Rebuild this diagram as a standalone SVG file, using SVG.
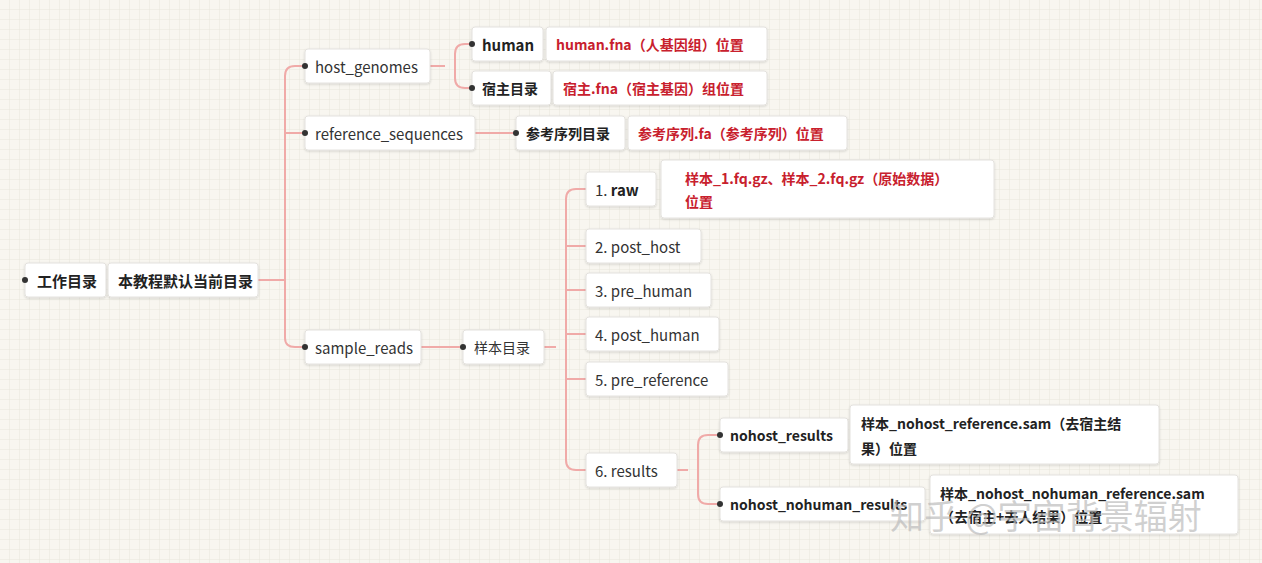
<svg xmlns="http://www.w3.org/2000/svg" width="1262" height="563" viewBox="0 0 1262 563">
<defs>
<pattern id="g" width="10" height="10" patternUnits="userSpaceOnUse"><path d="M10 0V10H0" fill="none" stroke="#e9e6dd" stroke-width="1"/></pattern>
<filter id="sh" x="-10%" y="-20%" width="120%" height="150%"><feDropShadow dx="0" dy="1" stdDeviation="1" flood-color="#000" flood-opacity="0.15"/></filter>
</defs>
<style>
.b{fill:#fff;stroke:#e4e2de;stroke-width:1;filter:url(#sh)}
text{font-family:"Noto Sans CJK SC","Noto Sans",sans-serif;font-size:15px;fill:#333;dominant-baseline:central}
.k{font-weight:bold;fill:#222}
.r{font-weight:bold;fill:#c8202d;font-size:14px}
.d{fill:#333}
.c{fill:none;stroke:#f0aaa8;stroke-width:2}
</style>
<rect width="1262" height="563" fill="#f8f6f0"/>
<rect width="1262" height="563" fill="url(#g)"/>
<g id="connectors">
<path class="c" d="M258 280H275M285 76V338Q285 347 295 347H305M285 76Q285 66 295 66H305M285 133H305M430 66H445M455 54V78Q455 88 465 88H472M455 54Q455 44 465 44H472M475 133H516M421 347H463M544 347H556M566 199V460Q566 470 576 470H586M566 199Q566 189 576 189H586M566 246H586M566 290H586M566 334H586M566 379H586M677 470H688M698 445V494Q698 504 708 504H720M698 445Q698 435 708 435H720"/>
<path class="c" d="M275 280H285"/>
</g>
<g id="root"><rect class="b" x="25" y="263" width="81" height="34" rx="3"/><circle class="d" cx="25" cy="280" r="3"/><text class="k" x="37" y="280">工作目录</text></g>
<g id="root-note"><rect class="b" x="108" y="263" width="150" height="34" rx="3"/><text class="k" x="118" y="280">本教程默认当前目录</text></g>
<g id="host_genomes"><rect class="b" x="305" y="49" width="125" height="34" rx="3"/><circle class="d" cx="305" cy="66" r="3"/><text x="315" y="66">host_genomes</text></g>
<g id="reference_sequences"><rect class="b" x="305" y="116" width="170" height="34" rx="3"/><circle class="d" cx="305" cy="133" r="3"/><text x="315" y="133">reference_sequences</text></g>
<g id="sample_reads"><rect class="b" x="305" y="330" width="116" height="34" rx="3"/><circle class="d" cx="305" cy="347" r="3"/><text x="315" y="347">sample_reads</text></g>
<g id="human"><rect class="b" x="472" y="27" width="71" height="34" rx="3"/><circle class="d" cx="472" cy="44" r="3"/><text class="k" x="482" y="44">human</text></g>
<g id="human-note"><rect class="b" x="546" y="27" width="221" height="34" rx="3"/><text class="r" x="556" y="44">human.fna（人基因组）位置</text></g>
<g id="host"><rect class="b" x="472" y="71" width="79" height="34" rx="3"/><circle class="d" cx="472" cy="88" r="3"/><text class="k" x="482" y="88" style="font-size:14px">宿主目录</text></g>
<g id="host-note"><rect class="b" x="553" y="71" width="214" height="34" rx="3"/><text class="r" x="563" y="88">宿主.fna（宿主基因）组位置</text></g>
<g id="refdir"><rect class="b" x="516" y="116" width="109" height="34" rx="3"/><circle class="d" cx="516" cy="133" r="3"/><text class="k" x="526" y="133" style="font-size:14px">参考序列目录</text></g>
<g id="refdir-note"><rect class="b" x="628" y="116" width="219" height="34" rx="3"/><text class="r" x="638" y="133">参考序列.fa（参考序列）位置</text></g>
<g id="sampledir"><rect class="b" x="463" y="330" width="81" height="34" rx="3"/><circle class="d" cx="463" cy="347" r="3"/><text x="474" y="347" style="font-size:14px">样本目录</text></g>
<g id="raw"><rect class="b" x="586" y="172" width="70" height="34" rx="3"/><text x="595" y="189">1. <tspan class="k">raw</tspan></text></g>
<g id="raw-note"><rect class="b" x="661" y="160" width="333" height="58" rx="3"/><text class="r" x="685" y="178">样本_1.fq.gz、样本_2.fq.gz（原始数据）</text><text class="r" x="685" y="201">位置</text></g>
<g id="post_host"><rect class="b" x="586" y="229" width="115" height="34" rx="3"/><text x="595" y="246">2. post_host</text></g>
<g id="pre_human"><rect class="b" x="586" y="273" width="125" height="34" rx="3"/><text x="595" y="290">3. pre_human</text></g>
<g id="post_human"><rect class="b" x="586" y="317" width="133" height="34" rx="3"/><text x="595" y="334">4. post_human</text></g>
<g id="pre_reference"><rect class="b" x="586" y="362" width="142" height="34" rx="3"/><text x="595" y="379">5. pre_reference</text></g>
<g id="results"><rect class="b" x="586" y="453" width="91" height="34" rx="3"/><text x="595" y="470">6. results</text></g>
<g id="nohost_results"><rect class="b" x="720" y="418" width="128" height="34" rx="3"/><circle class="d" cx="720" cy="435" r="3"/><text class="k" x="730" y="435" style="font-size:14px">nohost_results</text></g>
<g id="nohost_results-note"><rect class="b" x="850" y="405" width="309" height="59" rx="3"/><text class="k" x="861" y="423" style="font-size:14px">样本_nohost_reference.sam（去宿主结</text><text class="k" x="861" y="448" style="font-size:14px">果）位置</text></g>
<g id="nohost_nohuman_results"><rect class="b" x="720" y="487" width="205" height="34" rx="3"/><circle class="d" cx="720" cy="504" r="3"/><text class="k" x="730" y="504" style="font-size:14px">nohost_nohuman_results</text></g>
<g id="nohost_nohuman_results-note"><rect class="b" x="930" y="475" width="308" height="59" rx="3"/><text class="k" x="940" y="493" style="font-size:14px">样本_nohost_nohuman_reference.sam</text><text class="k" x="940" y="516" style="font-size:14px">（去宿主+去人结果）位置</text></g>
<text x="890" y="514" style="font-size:34px;fill:#bbb;fill-opacity:0.7">知乎 @宇宙背景辐射</text>
</svg>
